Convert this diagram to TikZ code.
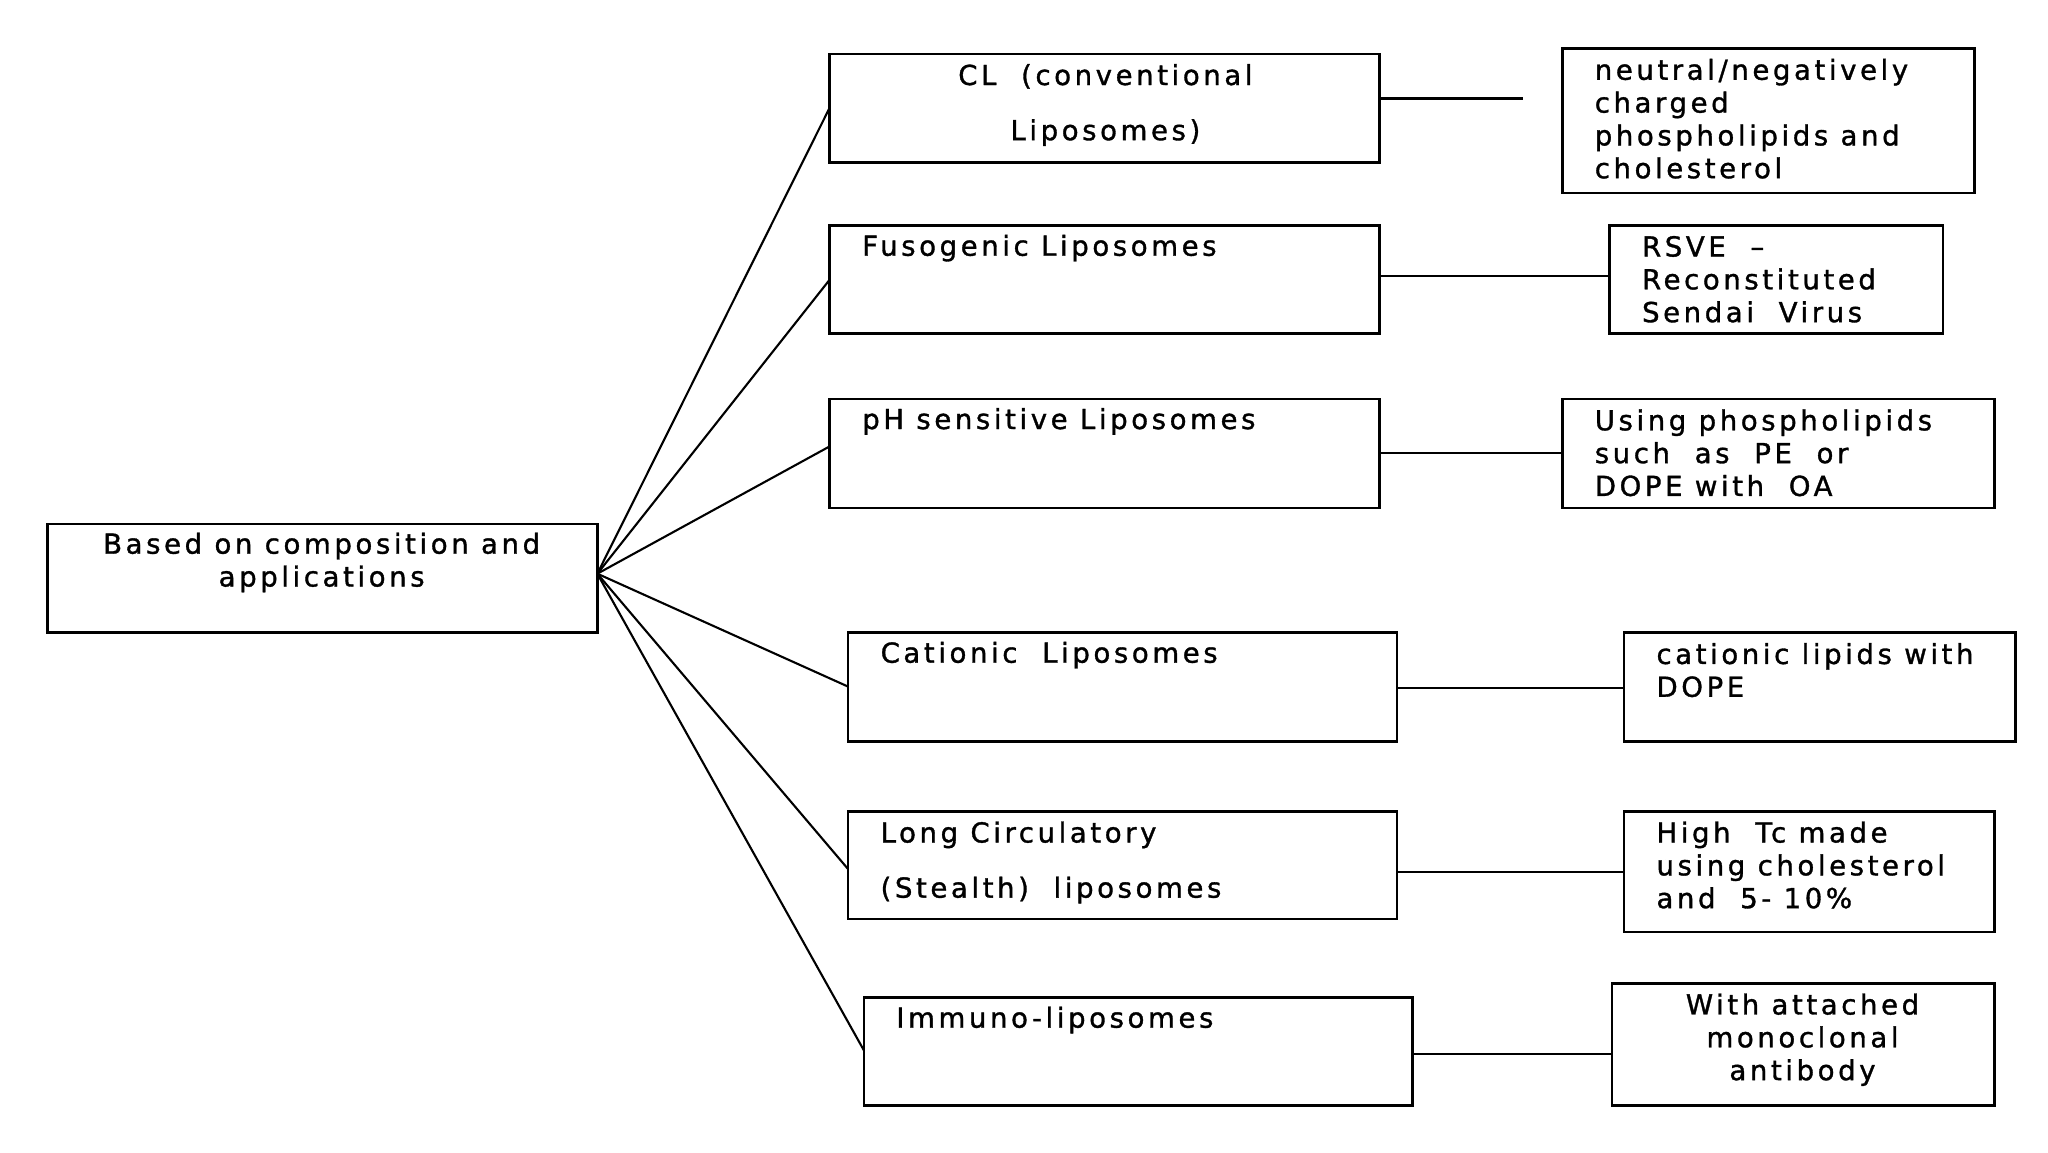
\documentclass[tikz,border=0pt]{standalone}
\usepackage{fontspec}
\setmainfont{DejaVu Sans}[LetterSpace=13,FakeBold=1.2]
\usetikzlibrary{positioning}
\begin{document}
\begin{tikzpicture}[x=0.5pt,y=-0.5pt,line width=0.8pt]
    \tikzstyle{box}=[draw, rectangle, inner sep=0pt, line width=1pt]
    \tikzstyle{txt}=[inner sep=0pt, align=left, font=\fontsize{10.5}{12.5}\selectfont]
    \tikzstyle{link}=[draw, line width=0.8pt]
    \useasboundingbox (0,0) rectangle (1560,878);

    % root
    \draw[box] (36,399) rectangle (455,482);
    \coordinate (root) at (455,437);
    \node[txt, align=center, anchor=north] (rootT) at (245,405) {Based on composition and\\applications};

    % middle column
    \draw[box] (632,41)  rectangle (1051,124);
    \draw[box] (632,172) rectangle (1051,254);
    \draw[box] (632,304) rectangle (1051,387);
    \draw[box] (646,482) rectangle (1064,565);
    \draw[box] (646,618) rectangle (1064,700);
    \draw[box] (658,760) rectangle (1076,842);
    \coordinate (m1w) at (632,82);  \coordinate (m1e) at (1051,75);
    \coordinate (m2w) at (632,213); \coordinate (m2e) at (1051,210);
    \coordinate (m3w) at (632,340); \coordinate (m3e) at (1051,345);
    \coordinate (m4w) at (646,523); \coordinate (m4e) at (1064,524);
    \coordinate (m5w) at (646,662); \coordinate (m5e) at (1064,664);
    \coordinate (m6w) at (658,800); \coordinate (m6e) at (1076,803);
    \node[txt, align=center, anchor=north] (clT) at (842,48) {CL\ \ (conventional\\[8.5pt]Liposomes)};
    \node[txt, anchor=west] (fusT) at (656,189) {Fusogenic Liposomes};
    \node[txt, anchor=west] (phT)  at (656,321) {pH sensitive Liposomes};
    \node[txt, anchor=west] (catT) at (670,499) {Cationic\ \ Liposomes};
    \node[txt, anchor=north west] (longT) at (670,625) {Long Circulatory\\[8.5pt](Stealth)\ \ liposomes};
    \node[txt, anchor=west] (immT) at (682,777) {Immuno-liposomes};

    % right column
    \draw[box] (1190,37)  rectangle (1504,147);
    \draw[box] (1226,172) rectangle (1480,254);
    \draw[box] (1190,304) rectangle (1519,387);
    \draw[box] (1237,482) rectangle (1535,565);
    \draw[box] (1237,618) rectangle (1519,710);
    \draw[box] (1228,749) rectangle (1519,842);
    \coordinate (clEnd) at (1160,75);
    \coordinate (r2w) at (1226,210);
    \coordinate (r3w) at (1190,345);
    \coordinate (r4w) at (1237,524);
    \coordinate (r5w) at (1237,664);
    \coordinate (r6w) at (1228,803);
    \node[txt, anchor=north west] (neuT) at (1214,44) {neutral/negatively\\charged\\phospholipids and\\cholesterol};
    \node[txt, anchor=north west] (rsvT) at (1250,179) {RSVE\ \ --\\Reconstituted\\Sendai\ \ Virus};
    \node[txt, anchor=north west] (peT)  at (1214,311) {Using phospholipids\\such\ \ as\ \ PE\ \ or\\DOPE with\ \ OA};
    \node[txt, anchor=north west] (dopT) at (1261,489) {cationic lipids with\\DOPE};
    \node[txt, anchor=north west] (tcT)  at (1261,625) {High\ \ Tc made\\using cholesterol\\and\ \ 5- 10\%};
    \node[txt, align=center, anchor=north] (abT) at (1373,756) {With attached\\monoclonal\\antibody};

    \foreach \m in {m1w,m2w,m3w,m4w,m5w,m6w}
      \path[link] (root) -- (\m);
    \path[link] (m1e) -- (clEnd);
    \path[link] (m2e) -- (r2w);
    \path[link] (m3e) -- (r3w);
    \path[link] (m4e) -- (r4w);
    \path[link] (m5e) -- (r5w);
    \path[link] (m6e) -- (r6w);
\end{tikzpicture}
\end{document}
